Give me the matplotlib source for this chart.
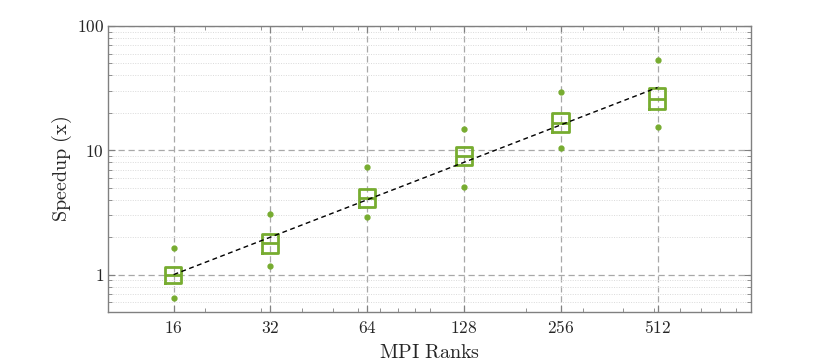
import matplotlib
matplotlib.use("Agg")
import matplotlib.pyplot as plt
from matplotlib.ticker import FixedLocator, FixedFormatter, LogLocator, NullFormatter

plt.rcParams['mathtext.fontset'] = 'cm'
plt.rcParams['font.family'] = ['DejaVu Serif']

# Data
ranks = [16, 32, 64, 128, 256, 512]
q1 = [0.86, 1.48, 3.53, 7.57, 14.0, 21.4]
med = [1.0, 1.78, 4.1, 8.95, 16.5, 25.8]
q3 = [1.16, 2.14, 4.85, 10.6, 19.9, 31.7]
low_pt = [0.65, 1.18, 2.88, 5.03, 10.4, 15.3]
high_pt = [1.65, 3.1, 7.3, 14.8, 29.4, 53.2]
ideal = [r / ranks[0] for r in ranks]
xtick_labels = ['16', '32', '64', '128', '256', '512']
ytick_vals = [1, 10, 100]
ytick_labels = ['1', '10', '100']

green = '#77AC30'
text_c = '#262626'
axis_c = '#808080'

fig = plt.figure(figsize=(8.3, 3.63), dpi=100)
ax = fig.add_axes([108/830, 1 - 312/363, (751 - 108)/830, (312 - 26)/363])
ax.set_xscale('log')
ax.set_yscale('log')

stats = []
for i in range(len(ranks)):
    stats.append(dict(med=med[i], q1=q1[i], q3=q3[i], whislo=q1[i], whishi=q3[i],
                      fliers=[low_pt[i], high_pt[i]]))
widths = [r * 0.115 for r in ranks]
ax.bxp(stats, positions=ranks, widths=widths, showcaps=False, manage_ticks=False,
       boxprops=dict(color=green, linewidth=2.0),
       medianprops=dict(color=green, linewidth=2.0),
       whiskerprops=dict(color=green, linewidth=0),
       flierprops=dict(marker='o', markerfacecolor=green, markeredgecolor=green,
                       markersize=3.5, linestyle='none'),
       zorder=3)

ax.plot(ranks, ideal, linestyle=(0, (3.5, 2.5)), color='black', linewidth=1.0, zorder=4)

ax.set_xlim(10, 1000)
ax.set_ylim(0.5, 100)

ax.xaxis.set_major_locator(FixedLocator(ranks))
ax.xaxis.set_major_formatter(FixedFormatter(['$%s$' % s for s in xtick_labels]))
ax.xaxis.set_minor_locator(LogLocator(base=10, subs=range(1, 10), numticks=20))
ax.xaxis.set_minor_formatter(NullFormatter())
ax.yaxis.set_major_locator(FixedLocator(ytick_vals))
ax.yaxis.set_major_formatter(FixedFormatter(['$%s$' % s for s in ytick_labels]))
ax.yaxis.set_minor_locator(LogLocator(base=10, subs=range(2, 10), numticks=20))
ax.yaxis.set_minor_formatter(NullFormatter())

ax.tick_params(which='both', direction='in', top=True, right=True, color=axis_c,
               labelcolor=text_c, labelsize=12.5)
ax.tick_params(which='major', length=5, width=0.8)
ax.tick_params(axis='x', which='major', pad=6)
ax.tick_params(axis='y', which='major', pad=3)
ax.tick_params(which='minor', length=3, width=0.6)

ax.grid(which='major', axis='both', linestyle=(0, (5, 3)), color='#a8a8a8', linewidth=0.9)
ax.grid(which='minor', axis='y', linestyle=(0, (1, 1.5)), color='#dadada', linewidth=0.7)
ax.set_axisbelow(True)

for s in ax.spines.values():
    s.set_color(axis_c)
    s.set_linewidth(1.0)

ax.set_xlabel(r'$\mathrm{MPI\ Ranks}$', fontsize=14.5, color=text_c, labelpad=4)
ax.set_ylabel(r'$\mathrm{Speedup\ (x)}$', fontsize=14.5, color=text_c, labelpad=2)

fig.savefig('out.png', dpi=100)
